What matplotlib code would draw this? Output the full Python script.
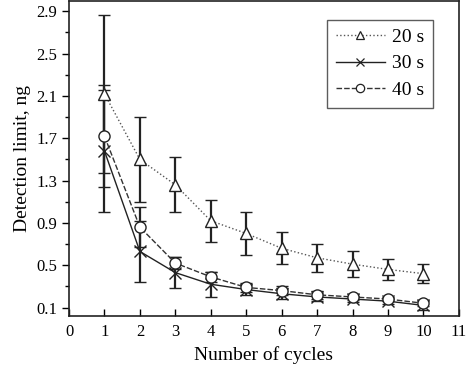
import numpy as np
import matplotlib
matplotlib.use('Agg')
import matplotlib.pyplot as plt
from matplotlib.ticker import MultipleLocator
from matplotlib.lines import Line2D

plt.rcParams['font.family'] = ['Liberation Serif', 'DejaVu Serif']

# Data
cycles = [1, 2, 3, 4, 5, 6, 7, 8, 9, 10]
dl_20s = [2.12, 1.50, 1.26, 0.92, 0.80, 0.66, 0.57, 0.51, 0.46, 0.42]
err_20s = [0.75, 0.40, 0.26, 0.20, 0.20, 0.15, 0.13, 0.12, 0.10, 0.09]
dl_30s = [1.58, 0.63, 0.43, 0.32, 0.27, 0.23, 0.20, 0.18, 0.16, 0.12]
err_30s = [0.58, 0.29, 0.15, 0.12, 0.05, 0.05, 0.04, 0.03, 0.03, 0.04]
dl_40s = [1.72, 0.86, 0.52, 0.39, 0.29, 0.26, 0.22, 0.20, 0.18, 0.14]
err_40s = [0.48, 0.19, 0.06, 0.05, 0.04, 0.04, 0.04, 0.03, 0.02, 0.03]
labels = ['20 s', '30 s', '40 s']

fig = plt.figure(figsize=(4.74, 3.83), dpi=100)
ax = fig.add_axes([0.1456, 0.175, 0.8224, 0.823])

eb_kw = dict(ecolor='#222222', elinewidth=1.6, capsize=4.3, capthick=1.6)

styles = [
    dict(color='#555555', ls=':', marker='^', mfc='white'),
    dict(color='#222222', ls='-', marker='x', mfc='#222222'),
    dict(color='#333333', ls=(0, (4, 1.5)), marker='o', mfc='white'),
]
sizes = [9, 8, 8]

for y, e, st, ms in zip([dl_20s, dl_30s, dl_40s], [err_20s, err_30s, err_40s], styles, sizes):
    ax.errorbar(cycles, y, yerr=e, lw=1.0, ms=ms, mec='#222222', mew=1.0, **st, **eb_kw)

ax.set_xlim(0, 11)
ax.set_ylim(0.02, 3.0)
ax.xaxis.set_major_locator(MultipleLocator(1))
ax.set_yticks([0.1, 0.5, 0.9, 1.3, 1.7, 2.1, 2.5, 2.9])
ax.set_yticks(np.arange(0.3, 3.0, 0.4), minor=True)

ax.tick_params(axis='x', direction='in', length=5, width=1, labelsize=12, pad=6)
ax.tick_params(axis='y', which='major', direction='out', length=5, width=1, labelsize=12)
ax.tick_params(axis='y', which='minor', direction='out', length=3, width=1)
for s in ax.spines.values():
    s.set_linewidth(1.2)
    s.set_color('#222222')

ax.set_xlabel('Number of cycles', fontsize=14, labelpad=4)
ax.set_ylabel('Detection limit, ng', fontsize=14, labelpad=4)

handles = [Line2D([], [], lw=1.0, ms=6, mec='#222222', mew=0.9, **st) for st in styles]
leg = ax.legend(handles, labels, loc='upper right', bbox_to_anchor=(0.935, 0.94),
                borderaxespad=0, fontsize=14, frameon=True, fancybox=False,
                edgecolor='#333333', handlelength=2.5, handletextpad=0.4,
                borderpad=0.45, labelspacing=0.45)
leg.get_frame().set_linewidth(1.0)

fig.savefig('out.png', dpi=100)
